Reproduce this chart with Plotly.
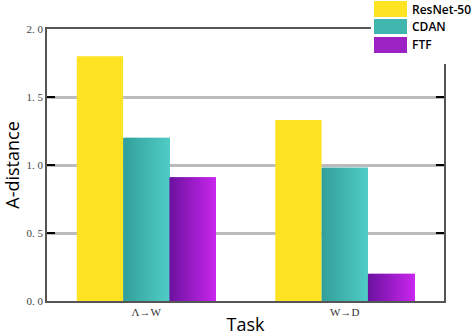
import plotly.graph_objects as go

tasks = ["Λ→W", "W→D"]
resnet50 = [1.80, 1.33]
cdan = [1.20, 0.98]
ftf = [0.91, 0.20]
series_names = ["ResNet-50", "CDAN", "FTF"]
colors = ["#fde321", "#3fb6ae", "#9c22c4"]
# left/right colours of the horizontal gradient used for each series
grad_left = ["#fde321", "#33a09a", "#6c12a0"]
grad_right = ["#fde321", "#50ccc6", "#c826ec"]
y_ticks = [0.0, 0.5, 1.0, 1.5, 2.0]
y_tick_text = ["0. 0", "0. 5", "1. 0", "1. 5", "2. 0"]


def hex2rgb(h):
    h = h.lstrip("#")
    return [int(h[i:i + 2], 16) for i in (0, 2, 4)]


def mix(a, b, t):
    ca, cb = hex2rgb(a), hex2rgb(b)
    return "rgb(%d,%d,%d)" % tuple(round(ca[k] + (cb[k] - ca[k]) * t) for k in range(3))


fig = go.Figure()
group_width = 0.7
slot = group_width / 3
for i, (name, vals) in enumerate(zip(series_names, [resnet50, cdan, ftf])):
    n_strips = 1 if grad_left[i] == grad_right[i] else 40
    sw = slot / n_strips
    for j in range(n_strips):
        t = j / max(n_strips - 1, 1)
        last = j == n_strips - 1
        fig.add_trace(go.Bar(
            x=tasks, y=vals, name=name, showlegend=False,
            width=sw if last else sw * 2, offset=-group_width / 2 + i * slot + j * sw,
            marker=dict(color=mix(grad_left[i], grad_right[i], t), line=dict(width=0)),
        ))

# custom legend (white box overlapping the frame corner, large swatches)
shapes = [dict(type="rect", xref="paper", yref="paper", x0=0.816, x1=1.08, y0=0.871, y1=1.11,
               fillcolor="white", line=dict(width=0), layer="above")]
annotations = []
row_y = [(1.1029, 1.0441), (1.0368, 0.9816), (0.9706, 0.9118)]
for (y1, y0), name, c in zip(row_y, series_names, colors):
    shapes.append(dict(type="rect", xref="paper", yref="paper", x0=0.8237, x1=0.9068, y0=y0, y1=y1,
                       fillcolor=c, line=dict(width=0), layer="above"))
    annotations.append(dict(xref="paper", yref="paper", x=0.9144, y=(y0 + y1) / 2, xanchor="left",
                            yanchor="middle", text=name, showarrow=False,
                            font=dict(family="Open Sans", size=12, color="black", weight=600)))

fig.update_layout(
    width=474, height=336,
    margin=dict(l=47, r=30, t=29, b=35),
    paper_bgcolor="white", plot_bgcolor="white",
    barmode="overlay",
    showlegend=False,
    shapes=shapes, annotations=annotations,
    xaxis=dict(
        range=[-0.5, 1.5], showgrid=False, showline=True, linecolor="#555555", linewidth=1.5,
        mirror=True, ticks="", automargin=False,
        tickfont=dict(family="Liberation Serif", size=11, color="#333333"),
        title=dict(text="Task", font=dict(family="Open Sans", size=18, color="black"), standoff=3),
    ),
    yaxis=dict(
        range=[0, 2.0], tickvals=y_ticks, ticktext=y_tick_text, automargin=False,
        showgrid=True, gridcolor="#bbbbbb", gridwidth=3,
        showline=True, linecolor="#555555", linewidth=1.5, mirror="ticks",
        ticks="inside", ticklen=8, tickwidth=2, tickcolor="black",
        tickfont=dict(family="Liberation Serif", size=11, color="#444444"),
        zeroline=False,
        title=dict(text="A-distance", font=dict(family="Open Sans", size=18, color="black"), standoff=4),
    ),
)
fig.write_html("out.html")
